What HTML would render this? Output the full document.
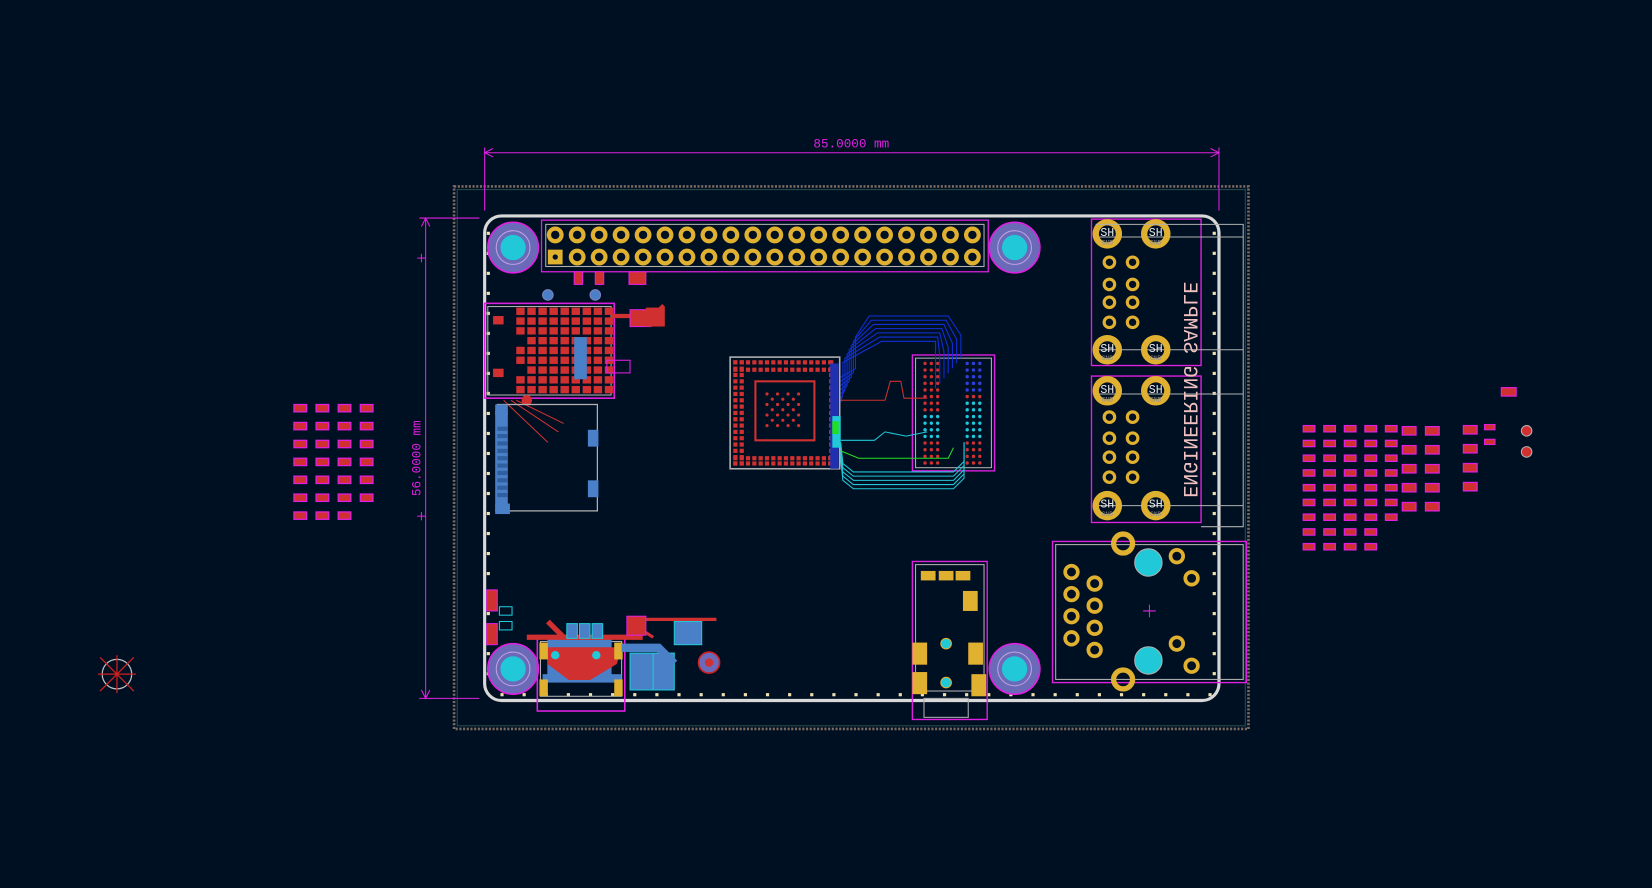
<!DOCTYPE html>
<html><head><meta charset="utf-8"><style>
html,body{margin:0;padding:0;background:#001023;}
svg{display:block}
text{font-family:"Liberation Mono",monospace}
</style></head><body>
<svg id="s" width="1652" height="888" viewBox="0 0 1568 843" preserveAspectRatio="none" xmlns="http://www.w3.org/2000/svg">
<rect width="1568" height="843" fill="#001023"/>
<!-- frame -->
<rect x="431" y="177" width="754" height="515" fill="none" stroke="#7a6a60" stroke-width="2.5" stroke-dasharray="2 1.5"/>
<rect x="434" y="180" width="748" height="509" fill="none" stroke="#2a4a4a" stroke-width="1"/>
<!-- dimensions -->
<g stroke="#e020e0" stroke-width="1" fill="none">
<line x1="460" y1="145" x2="1157" y2="145"/><line x1="460" y1="140" x2="460" y2="200"/><line x1="1157" y1="140" x2="1157" y2="200"/>
<polyline points="468,141 460,145 468,149"/><polyline points="1149,141 1157,145 1149,149"/>
<line x1="404" y1="207" x2="404" y2="663"/><line x1="398" y1="207" x2="455" y2="207"/><line x1="398" y1="663" x2="455" y2="663"/>
<polyline points="400,215 404,207 408,215"/><polyline points="400,655 404,663 408,655"/>
<line x1="396" y1="245" x2="404" y2="245"/><line x1="400" y1="241" x2="400" y2="249"/>
<line x1="396" y1="490" x2="404" y2="490"/><line x1="400" y1="486" x2="400" y2="494"/>
</g>
<text x="808" y="140" fill="#e020e0" font-size="12" text-anchor="middle">85.0000 mm</text>
<text transform="translate(399,435) rotate(-90)" fill="#e020e0" font-size="12" text-anchor="middle">56.0000 mm</text>
<!-- board outline -->
<rect x="460" y="205" width="697" height="460" rx="16" fill="none" stroke="#d8d8d8" stroke-width="3"/>
<g id="g"></g>
<!-- right connectors text -->
<text transform="translate(1124,370) rotate(90) scale(-1,1)" fill="#f0c0c0" font-size="19" text-anchor="middle" font-family="Liberation Sans">ENGINEERING SAMPLE</text>
<!-- crosshair -->
<g stroke="#d02020" fill="none" stroke-width="1.2"><circle cx="111" cy="640" r="14" stroke="#c0c0c0"/><line x1="95" y1="624" x2="127" y2="656"/><line x1="127" y1="624" x2="95" y2="656"/><line x1="111" y1="622" x2="111" y2="658"/><line x1="93" y1="640" x2="129" y2="640"/></g>
</svg>
<script>
var g=document.getElementById('g'),h='';
function R(x,y,w,hh,f,s,sw){h+='<rect x="'+x+'" y="'+y+'" width="'+w+'" height="'+hh+'" fill="'+(f||'none')+'" stroke="'+(s||'none')+'" stroke-width="'+(sw||1)+'"/>';}
function C(x,y,r,f,s,sw){h+='<circle cx="'+x+'" cy="'+y+'" r="'+r+'" fill="'+(f||'none')+'" stroke="'+(s||'none')+'" stroke-width="'+(sw||1)+'"/>';}
function P(d,s,w,f){h+='<path d="'+d+'" fill="'+(f||'none')+'" stroke="'+s+'" stroke-width="'+(w||1)+'"/>';}
function T(x,y,t,sz,c){h+='<text x="'+x+'" y="'+y+'" font-size="'+sz+'" fill="'+c+'" text-anchor="middle">'+t+'</text>';}
var M='#e020e0',GO='#e0b030',RD='#d03030',BL='#4a80c8',CY='#20c8d8',GR='#b0b0b0';
// edge vias
for(var x=475;x<1150;x+=21){R(x,658,3,3,'#f0e0b0');}
for(var y=220;y<650;y+=19){R(462,y,3,3,'#f0e0b0');R(1151,y,3,3,'#f0e0b0');}
// header
R(514,209,424,49,'none',M,1.2);R(518,213,416,40,'none',GR,1);
for(var i=0;i<20;i++){var px=527+i*20.84;C(px,223,6,'none',GO,4);if(i==0){R(520,237,14,14,GO);C(527,244,2.5,'#001023');}else C(px,244,6,'none',GO,4);}
R(545,258,8,12,RD,M);R(565,258,8,12,RD,M);R(597,258,16,12,RD,M);
// mounting holes
[[487,235],[963,235],[487,635],[963,635]].forEach(function(p){C(p[0],p[1],24,'#6a6ab8',M,1.5);C(p[0],p[1],16,'none','#c0a0e0',1);C(p[0],p[1],12,CY);});
// left module
R(460,288,123,90,'none',M,1.5);R(463,291,117,84,'none',GR,1);
for(var r=0;r<9;r++)for(var c=0;c<9;c++){if((r==3||r==6)&&c<1)continue;R(490+c*10.5,292+r*9.3,8,7,RD);}
R(468,300,10,8,RD);R(468,350,10,8,RD);
P('M580,300 L620,300 L630,290',RD,4);R(598,294,20,16,RD,M);R(613,292,18,18,RD);
C(520,280,5,BL,'#8080c0');C(565,280,5,BL,'#8080c0');C(500,380,5,RD);
P('M478,380 L520,420 M485,380 L530,410 M490,380 L535,402',RD,1);
R(576,342,22,12,'none',M);R(545,320,12,40,BL);
// SD card
R(472,384,95,101,'none',GR,1.2);R(470,390,12,96,BL);R(558,408,10,16,BL);R(558,456,10,16,BL);R(470,384,12,10,BL);R(470,478,14,10,BL);
for(var y=405;y<475;y+=7)R(472,y,10,4,'#3060a0');
// left small parts
R(462,560,10,20,RD,M);R(462,592,10,20,RD,M);R(474,576,12,8,'none',CY);R(474,590,12,8,'none',CY);
// bottom-left usb
R(510,606,83,69,'none',M,1.5);R(513,609,77,52,'none',GR);
P('M520,606 L580,606 L580,645 L520,645 Z',BL,0,BL);R(515,640,75,8,BL);
P('M520,615 L590,615 L585,630 L560,645 L540,645 L520,630 Z',RD,0,RD);P('M500,605 L610,605 M520,590 L535,605',RD,5);
R(512,610,8,16,GO);R(512,645,8,16,GO);R(583,610,8,16,GO);R(583,645,8,16,GO);
C(527,622,4,CY);C(566,622,4,CY);
R(538,592,10,14,BL,CY);R(550,592,10,14,BL,CY);R(562,592,10,14,BL,CY);
R(598,620,22,35,BL,CY);R(620,620,20,35,BL,CY);P('M590,615 L625,615 L640,630',BL,8);
R(640,590,26,22,BL,CY);P('M598,588 L680,588 M600,592 L620,605',RD,3);R(595,585,18,18,RD,M);
C(673,629,10,'#6a6ab8','#d02020',1.5);C(673,629,4,RD);
// BGA SoC
R(693,339,104,106,'none',GR,1.5);
for(var x=696;x<790;x+=6){R(x,342,4,4,RD);R(x,349,4,4,RD);R(x,433,4,4,RD);R(x,438,4,4,RD);}
for(var y=342;y<440;y+=6){R(696,y,4,4,RD);R(702,y,4,4,RD);R(787,y,4,4,RD);}
R(717,362,56,56,'none',RD,2);
for(var r=0;r<7;r++)for(var c=0;c<7;c++)if((r+c)%2==0)C(728+c*5,374+r*5,1.5,RD);
R(788,345,8,100,'#2030b0');R(790,395,8,30,CY);R(790,400,6,12,'#20e020');
// memory
R(866,337,78,110,'none',M,1.3);R(869,340,72,104,'none',GR);
for(var r=0;r<16;r++)for(var c=0;c<3;c++){C(878+c*6,345+r*6.3,1.6,r>7&&r<12?CY:RD);C(918+c*6,345+r*6.3,1.6,r>5&&r<12?CY:(r<5?'#3040e0':RD));}
// blue traces
for(var k=0;k<7;k++){var o=k*4;P('M'+(798)+','+(358+o)+' L'+(812-o/2)+','+(350+o)+' L'+(812-o/2)+','+(320+o)+' L'+(825+o/2)+','+(300+o)+' L'+(900-o/2)+','+(300+o)+' L'+(912-o)+','+(318+o)+' L'+(912-o)+','+(340+o*1.2),'#1030d8',1);}
for(var k=0;k<5;k++){var o=k*4;P('M798,'+(420+o)+' L800,'+(440+o)+' L810,'+(448+o)+' L905,'+(448+o)+' L915,'+(438+o)+' L915,'+(420),CY,1);}
P('M798,380 L840,380 L845,362 L855,362 L858,378 L880,378',RD,1);
P('M798,418 L830,418 L840,410 L860,414 L880,410',CY,1);P('M798,428 L815,435 L900,435 L905,425',"#20e020",1);
// USB right connectors
[[208,222,332],[357,371,480]].forEach(function(a){R(1036,a[0],104,139,'none',M,1.3);
P('M1040,'+(a[1]+3)+' L1180,'+(a[1]+3)+' M1040,'+(a[2])+' L1180,'+(a[2]),GR,1);
[[1051,a[1]],[1097,a[1]],[1051,a[2]],[1097,a[2]]].forEach(function(p){C(p[0],p[1],11,'none',GO,6);T(p[0],p[1]+2,'SH',11,'#e8e8e8');T(p[0],p[1]+10,'GND',6,'#909090');});
var ys=a[0]==208?[249,270,287,306]:[396,416,434,453];ys.forEach(function(y,i){C(1053,y,5,'none',GO,3);if(i<4)C(1075,y,5,'none',GO,3);});});
P('M1040,213 L1180,213 L1180,500 L1140,500',GR,1);
// RJ45
R(999,514,184,134,'none',M,1.3);R(1002,517,178,128,'none',GR);
C(1090,534,13,CY,GR);C(1090,627,13,CY,GR);
[[1066,516],[1066,645]].forEach(function(p){C(p[0],p[1],9,'none',GO,5);});
[[1117,528],[1131,549],[1117,611],[1131,632],[1017,543],[1017,564],[1017,585],[1017,606],[1039,554],[1039,575],[1039,596],[1039,617]].forEach(function(p){C(p[0],p[1],6,'none',GO,3.5);});
P('M1085,580 L1097,580 M1091,574 L1091,586',M,1);
// power connector
R(866,533,71,150,'none',M,1.3);R(869,536,65,120,'none',GR);R(877,663,42,18,'none',GR);
R(874,542,14,9,GO);R(891,542,14,9,GO);R(907,542,14,9,GO);R(914,561,14,19,GO);
R(866,610,14,21,GO);R(919,610,14,21,GO);R(866,638,14,21,GO);R(922,640,14,21,GO);
C(898,611,5,CY,GO);C(898,648,5,CY,GO);
// pad arrays left
for(var c=0;c<4;c++)for(var r=0;r<7;r++){if(r==6&&c==3)continue;R(279+c*21,384+r*17,12,7,RD,M,1.2);}
// pad arrays right
for(var c=0;c<5;c++)for(var r=0;r<9;r++){if(c==4&&r>6)continue;R(1237+c*19.5,404+r*14,11,6,RD,M,1.2);}
for(var c=0;c<2;c++)for(var r=0;r<5;r++)R(1331+c*22,405+r*18,13,8,RD,M,1.2);
for(var r=0;r<4;r++)R(1389,404+r*18,13,8,RD,M,1.2);R(1409,403,10,5,RD,M);R(1409,417,10,5,RD,M);
R(1425,368,14,8,RD,M,1.2);C(1449,409,5,RD,GR);C(1449,429,5,RD,GR);
g.innerHTML=h;
</script>
</body></html>
